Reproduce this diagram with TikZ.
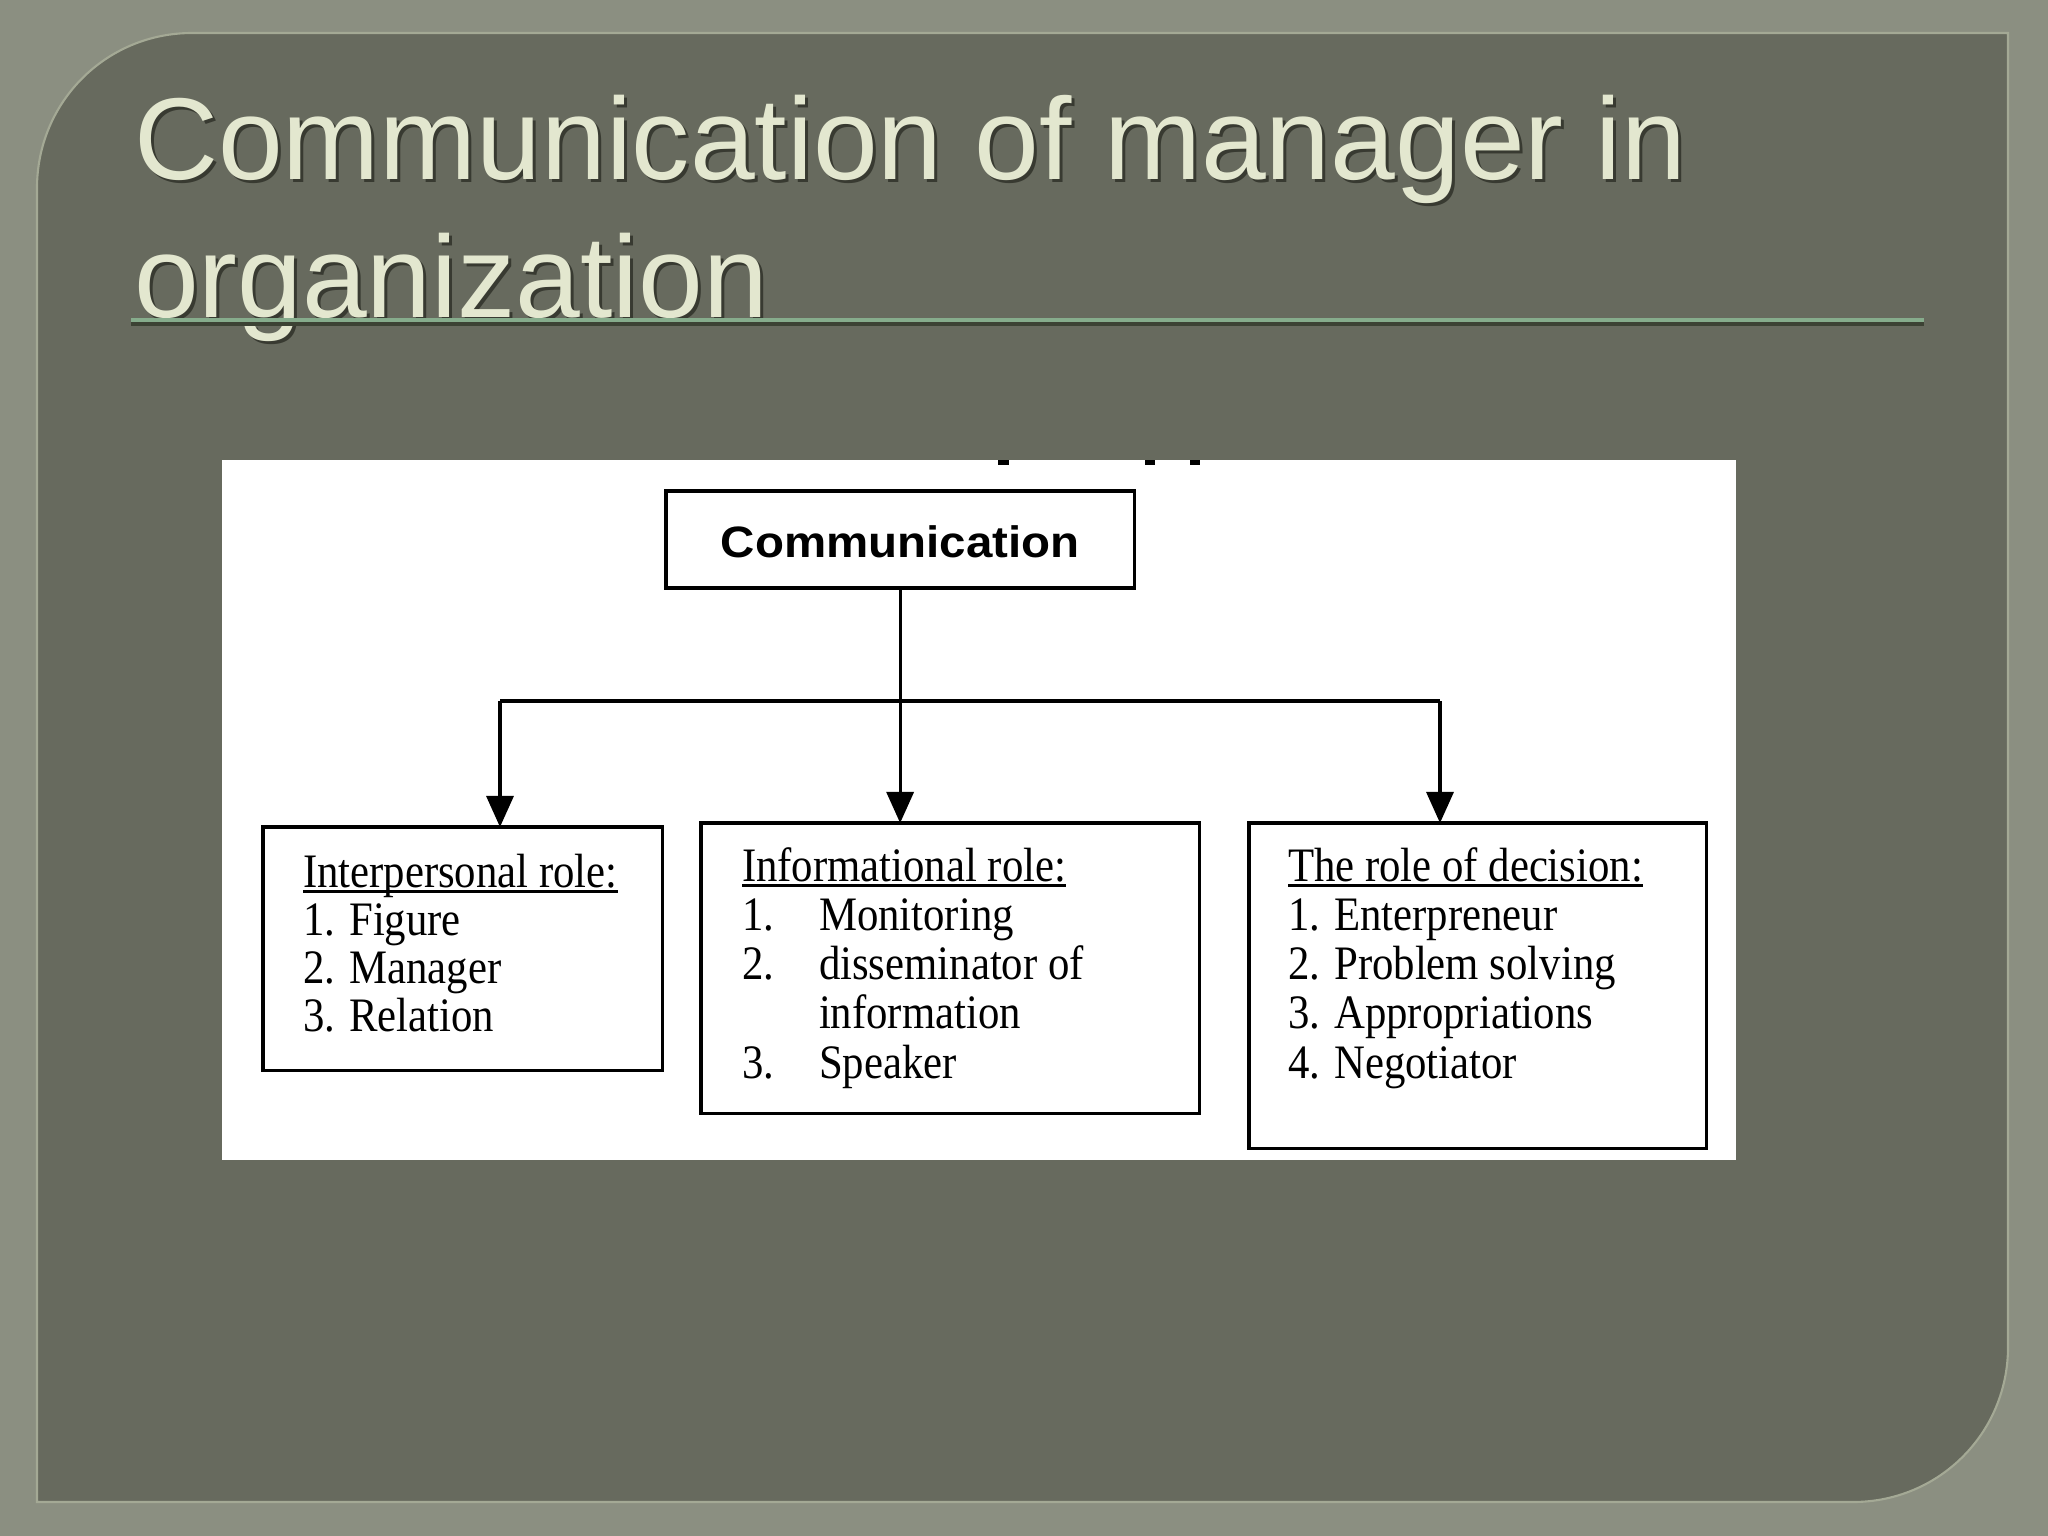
\documentclass[tikz,border=0pt]{standalone}
\usepackage{fontspec}
\setmainfont{Liberation Serif}
\newfontfamily\titlefont{Liberation Sans}
\newfontfamily\commfont[FakeStretch=1.08]{Liberation Sans Bold}
\newfontfamily\boxfont[FakeStretch=0.89]{Liberation Serif}
\usetikzlibrary{arrows.meta}
\definecolor{outerbg}{HTML}{8B8F81}
\definecolor{panelbg}{HTML}{676A5E}
\definecolor{paneledge}{HTML}{A4A995}
\definecolor{titlecol}{HTML}{E3E7CF}
\definecolor{titleshade}{HTML}{383A31}
\definecolor{rulecol}{HTML}{86AC8C}
\definecolor{ruleshade}{HTML}{3C4234}
\newcommand\myul[1]{\setbox0=\hbox{#1}\rlap{\rule[-0.06cm]{\wd0}{0.028cm}}\box0}
\newcommand\numcol[1]{\makebox[0.77cm][l]{#1}}
\tikzset{
  rolebox/.style={draw=black, line width=0.9pt, fill=white, inner sep=0pt, outer sep=0pt, anchor=north west},
  conn/.style={line width=0.9pt, draw=black},
  arr/.style={conn, -{Triangle[width=0.27cm,length=0.31cm]}},
  txt/.style={anchor=base west, inner sep=0pt, outer sep=0pt, text=black},
  titletxt/.style={anchor=base west, inner sep=0pt, outer sep=0pt},
}
\begin{document}
\begin{tikzpicture}[x=0.01cm, y=-0.01cm]
\useasboundingbox (0,0) rectangle (2048,1536);
% outer background
\fill[outerbg] (0,0) rectangle (2048,1536);
% panel
\filldraw[fill=panelbg, draw=paneledge, line width=0.6pt]
  (37,1502) -- (37,188) .. controls (37,102) and (106,33) .. (192,33)
  -- (2008,33) -- (2008,1347) .. controls (2008,1433) and (1939,1502) .. (1853,1502)
  -- cycle;
% title
\node[titletxt, text=titleshade] (titleshadow) at (137,182)
  {\titlefont\fontsize{33.1}{39}\selectfont\vtop{\baselineskip=1.38cm\hbox{Communication of manager in}\hbox{organization}}};
\node[titletxt, text=titlecol] (title) at (134,179)
  {\titlefont\fontsize{33.1}{39}\selectfont\vtop{\baselineskip=1.38cm\hbox{Communication of manager in}\hbox{organization}}};
\draw[ruleshade, line width=1.2pt] (131,323.5) -- (1924,323.5);
\draw[rulecol, line width=0.9pt] (131,320) -- (1924,320);
% white picture area
\fill[white] (222,460) rectangle (1736,1160);
\fill[black] (998,460) rectangle (1009,465);
\fill[black] (1145,460) rectangle (1155,465);
\fill[black] (1190,460) rectangle (1200,465);
% boxes
\node[rolebox, minimum width=4.68cm, minimum height=0.97cm] (comm) at (666,491) {};
\node[inner sep=0pt] (commtext) at ([yshift=-0.02cm]comm.center) {\commfont\fontsize{12.5}{15}\selectfont Communication};
\node[rolebox, minimum width=3.99cm, minimum height=2.43cm] (b1) at (263,827) {};
\node[rolebox, minimum width=4.98cm, minimum height=2.90cm] (b2) at (701,823) {};
\node[rolebox, minimum width=4.57cm, minimum height=3.25cm] (b3) at (1249,823) {};
% connectors
\coordinate (jl) at (500,701);
\coordinate (jr) at (1440,701);
\draw[conn] (jl) -- (jr);
\draw[arr] (comm.south) -- (comm.south |- b2.north);
\draw[arr] (jl) -- (jl |- b1.north);
\draw[arr] (jr) -- (jr |- b3.north);
% box texts
\node[txt] (t1) at (303,887) {\boxfont\fontsize{13.66}{13.66}\selectfont\vtop{\baselineskip=0.48cm
  \hbox{\myul{Interpersonal role:}}\hbox{1. Figure}\hbox{2. Manager}\hbox{3. Relation}}};
\node[txt] (t2) at (742,881) {\boxfont\fontsize{13.66}{13.66}\selectfont\vtop{\baselineskip=0.4925cm
  \hbox{\myul{Informational role:}}\hbox{\numcol{1.}Monitoring}\hbox{\numcol{2.}disseminator of}\hbox{\numcol{}information}\hbox{\numcol{3.}Speaker}}};
\node[txt] (t3) at (1288,881) {\boxfont\fontsize{13.66}{13.66}\selectfont\vtop{\baselineskip=0.4925cm
  \hbox{\myul{The role of decision:}}\hbox{1. Enterpreneur}\hbox{2. Problem solving}\hbox{3. Appropriations}\hbox{4. Negotiator}}};
\end{tikzpicture}
\end{document}
